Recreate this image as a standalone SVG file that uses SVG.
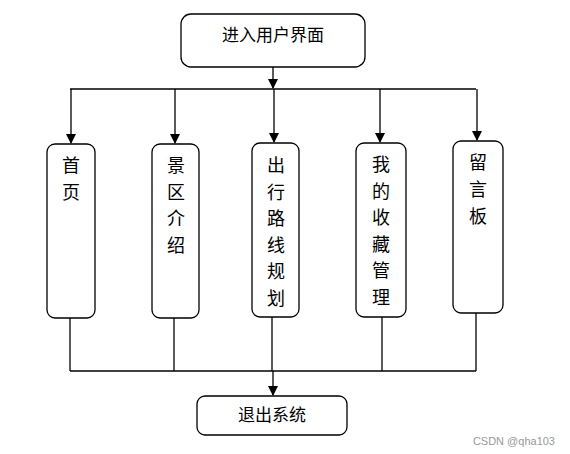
<svg xmlns="http://www.w3.org/2000/svg" width="570" height="454" viewBox="0 0 570 454">
<style>
.box{fill:#fff;stroke:#000;stroke-width:1.3}
.ln{fill:none;stroke:#000;stroke-width:1.3}
.t{font-family:"Noto Sans CJK SC","Liberation Sans",sans-serif;font-size:17px;fill:#000;text-anchor:middle}
.v{font-family:"Noto Sans CJK SC","Liberation Sans",sans-serif;font-size:18px;fill:#000;text-anchor:middle}
</style>
<defs>
<marker id="ah" markerWidth="10" markerHeight="10" refX="9" refY="5" orient="auto" markerUnits="userSpaceOnUse">
<path d="M0,0 L10,5 L0,10 Z" fill="#000"/>
</marker>
</defs>
<rect width="570" height="454" fill="#fff"/>
<g id="connectors">
<path class="ln" d="M273,67 V88" marker-end="url(#ah)"/>
<path class="ln" d="M70,89 H476"/>
<path class="ln" d="M71,89 V143" marker-end="url(#ah)"/>
<path class="ln" d="M175,89 V143" marker-end="url(#ah)"/>
<path class="ln" d="M274,89 V142" marker-end="url(#ah)"/>
<path class="ln" d="M380,89 V142" marker-end="url(#ah)"/>
<path class="ln" d="M477,89 V140" marker-end="url(#ah)"/>
<path class="ln" d="M70,318 V371"/>
<path class="ln" d="M174,318 V371"/>
<path class="ln" d="M272,317 V371"/>
<path class="ln" d="M382,317 V371"/>
<path class="ln" d="M476,313 V371"/>
<path class="ln" d="M70,371 H476"/>
<path class="ln" d="M273,371 V395" marker-end="url(#ah)"/>
</g>
<g id="start">
<rect class="box" x="181" y="14" width="184" height="53" rx="10"/>
<text class="t" x="273" y="41">进入用户界面</text>
</g>
<g id="home">
<rect class="box" x="47" y="144" width="48" height="174" rx="8"/>
<text class="v" x="71" y="172"><tspan x="71">首</tspan><tspan x="71" dy="26.6">页</tspan></text>
</g>
<g id="scenic">
<rect class="box" x="152" y="144" width="47" height="174" rx="8"/>
<text class="v" x="176" y="172"><tspan x="176">景</tspan><tspan x="176" dy="26.6">区</tspan><tspan x="176" dy="26.6">介</tspan><tspan x="176" dy="26.6">绍</tspan></text>
</g>
<g id="route">
<rect class="box" x="252" y="143" width="47" height="174" rx="8"/>
<text class="v" x="276" y="172"><tspan x="276">出</tspan><tspan x="276" dy="26.6">行</tspan><tspan x="276" dy="26.6">路</tspan><tspan x="276" dy="26.6">线</tspan><tspan x="276" dy="26.6">规</tspan><tspan x="276" dy="26.6">划</tspan></text>
</g>
<g id="favorites">
<rect class="box" x="356" y="143" width="50" height="174" rx="8"/>
<text class="v" x="381" y="171"><tspan x="381">我</tspan><tspan x="381" dy="26.6">的</tspan><tspan x="381" dy="26.6">收</tspan><tspan x="381" dy="26.6">藏</tspan><tspan x="381" dy="26.6">管</tspan><tspan x="381" dy="26.6">理</tspan></text>
</g>
<g id="board">
<rect class="box" x="453" y="141" width="50" height="172" rx="8"/>
<text class="v" x="478" y="169"><tspan x="478">留</tspan><tspan x="478" dy="27">言</tspan><tspan x="478" dy="27">板</tspan></text>
</g>
<g id="exit">
<rect class="box" x="197" y="396" width="150" height="39" rx="8"/>
<text class="t" x="272" y="421">退出系统</text>
</g>
<text x="555" y="445" font-family="Liberation Sans, sans-serif" font-size="11" fill="#999" text-anchor="end">CSDN @qha103</text>
</svg>
